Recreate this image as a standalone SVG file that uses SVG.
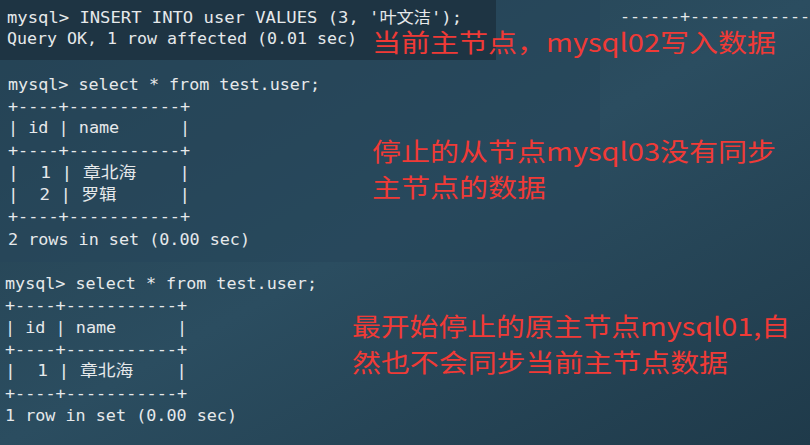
<svg xmlns="http://www.w3.org/2000/svg" width="810" height="445" viewBox="0 0 810 445" xml:space="preserve">
<defs>
<linearGradient id="bg" x1="0" y1="0" x2="1" y2="1">
<stop offset="0" stop-color="#24404f"/><stop offset="0.5" stop-color="#2b4d60"/><stop offset="1" stop-color="#1f3a4a"/>
</linearGradient>
<style>
.m{font-family:"DejaVu Sans Mono","Noto Sans CJK SC",monospace;font-size:16px;fill:#e6e9eb;white-space:pre}
.r{font-family:"Noto Sans CJK SC",sans-serif;font-size:25px;fill:#f03a36}
</style>
</defs>
<rect width="810" height="445" fill="url(#bg)"/>
<rect x="0" y="0" width="600" height="262" fill="#26465a" opacity="0.6"/>
<rect x="0" y="0" width="496" height="60" fill="#1e3443"/>
<text class="m" x="620" y="22" textLength="190" lengthAdjust="spacingAndGlyphs">------+------------</text>
<text class="m" x="7" y="23" textLength="455" lengthAdjust="spacingAndGlyphs">mysql&gt; INSERT INTO user VALUES (3, '叶文洁');</text>
<text class="m" x="7" y="44" textLength="350" lengthAdjust="spacingAndGlyphs">Query OK, 1 row affected (0.01 sec)</text>
<text class="m" x="8" y="90" textLength="312" lengthAdjust="spacingAndGlyphs">mysql&gt; select * from test.user;</text>
<text class="m" x="8" y="112" textLength="182" lengthAdjust="spacingAndGlyphs">+----+-----------+</text>
<text class="m" x="8" y="133" textLength="182" lengthAdjust="spacingAndGlyphs">| id | name      |</text>
<text class="m" x="8" y="156" textLength="182" lengthAdjust="spacingAndGlyphs">+----+-----------+</text>
<text class="m" x="8" y="178" textLength="182" lengthAdjust="spacingAndGlyphs">|  1 | 章北海    |</text>
<text class="m" x="8" y="200" textLength="182" lengthAdjust="spacingAndGlyphs">|  2 | 罗辑      |</text>
<text class="m" x="8" y="222" textLength="182" lengthAdjust="spacingAndGlyphs">+----+-----------+</text>
<text class="m" x="8" y="245" textLength="242" lengthAdjust="spacingAndGlyphs">2 rows in set (0.00 sec)</text>
<text class="m" x="5" y="289" textLength="312" lengthAdjust="spacingAndGlyphs">mysql&gt; select * from test.user;</text>
<text class="m" x="5" y="311" textLength="182" lengthAdjust="spacingAndGlyphs">+----+-----------+</text>
<text class="m" x="5" y="333" textLength="182" lengthAdjust="spacingAndGlyphs">| id | name      |</text>
<text class="m" x="5" y="355" textLength="182" lengthAdjust="spacingAndGlyphs">+----+-----------+</text>
<text class="m" x="5" y="376" textLength="182" lengthAdjust="spacingAndGlyphs">|  1 | 章北海    |</text>
<text class="m" x="5" y="399" textLength="182" lengthAdjust="spacingAndGlyphs">+----+-----------+</text>
<text class="m" x="5" y="421" textLength="232" lengthAdjust="spacingAndGlyphs">1 row in set (0.00 sec)</text>
<text class="r" x="372" y="52" textLength="404" lengthAdjust="spacingAndGlyphs">当前主节点，mysql02写入数据</text>
<text class="r" x="372" y="161" textLength="404" lengthAdjust="spacingAndGlyphs">停止的从节点mysql03没有同步</text>
<text class="r" x="372" y="197" textLength="174" lengthAdjust="spacingAndGlyphs">主节点的数据</text>
<text class="r" x="352" y="336" textLength="438" lengthAdjust="spacingAndGlyphs">最开始停止的原主节点mysql01,自</text>
<text class="r" x="352" y="372" textLength="376" lengthAdjust="spacingAndGlyphs">然也不会同步当前主节点数据</text>
</svg>
